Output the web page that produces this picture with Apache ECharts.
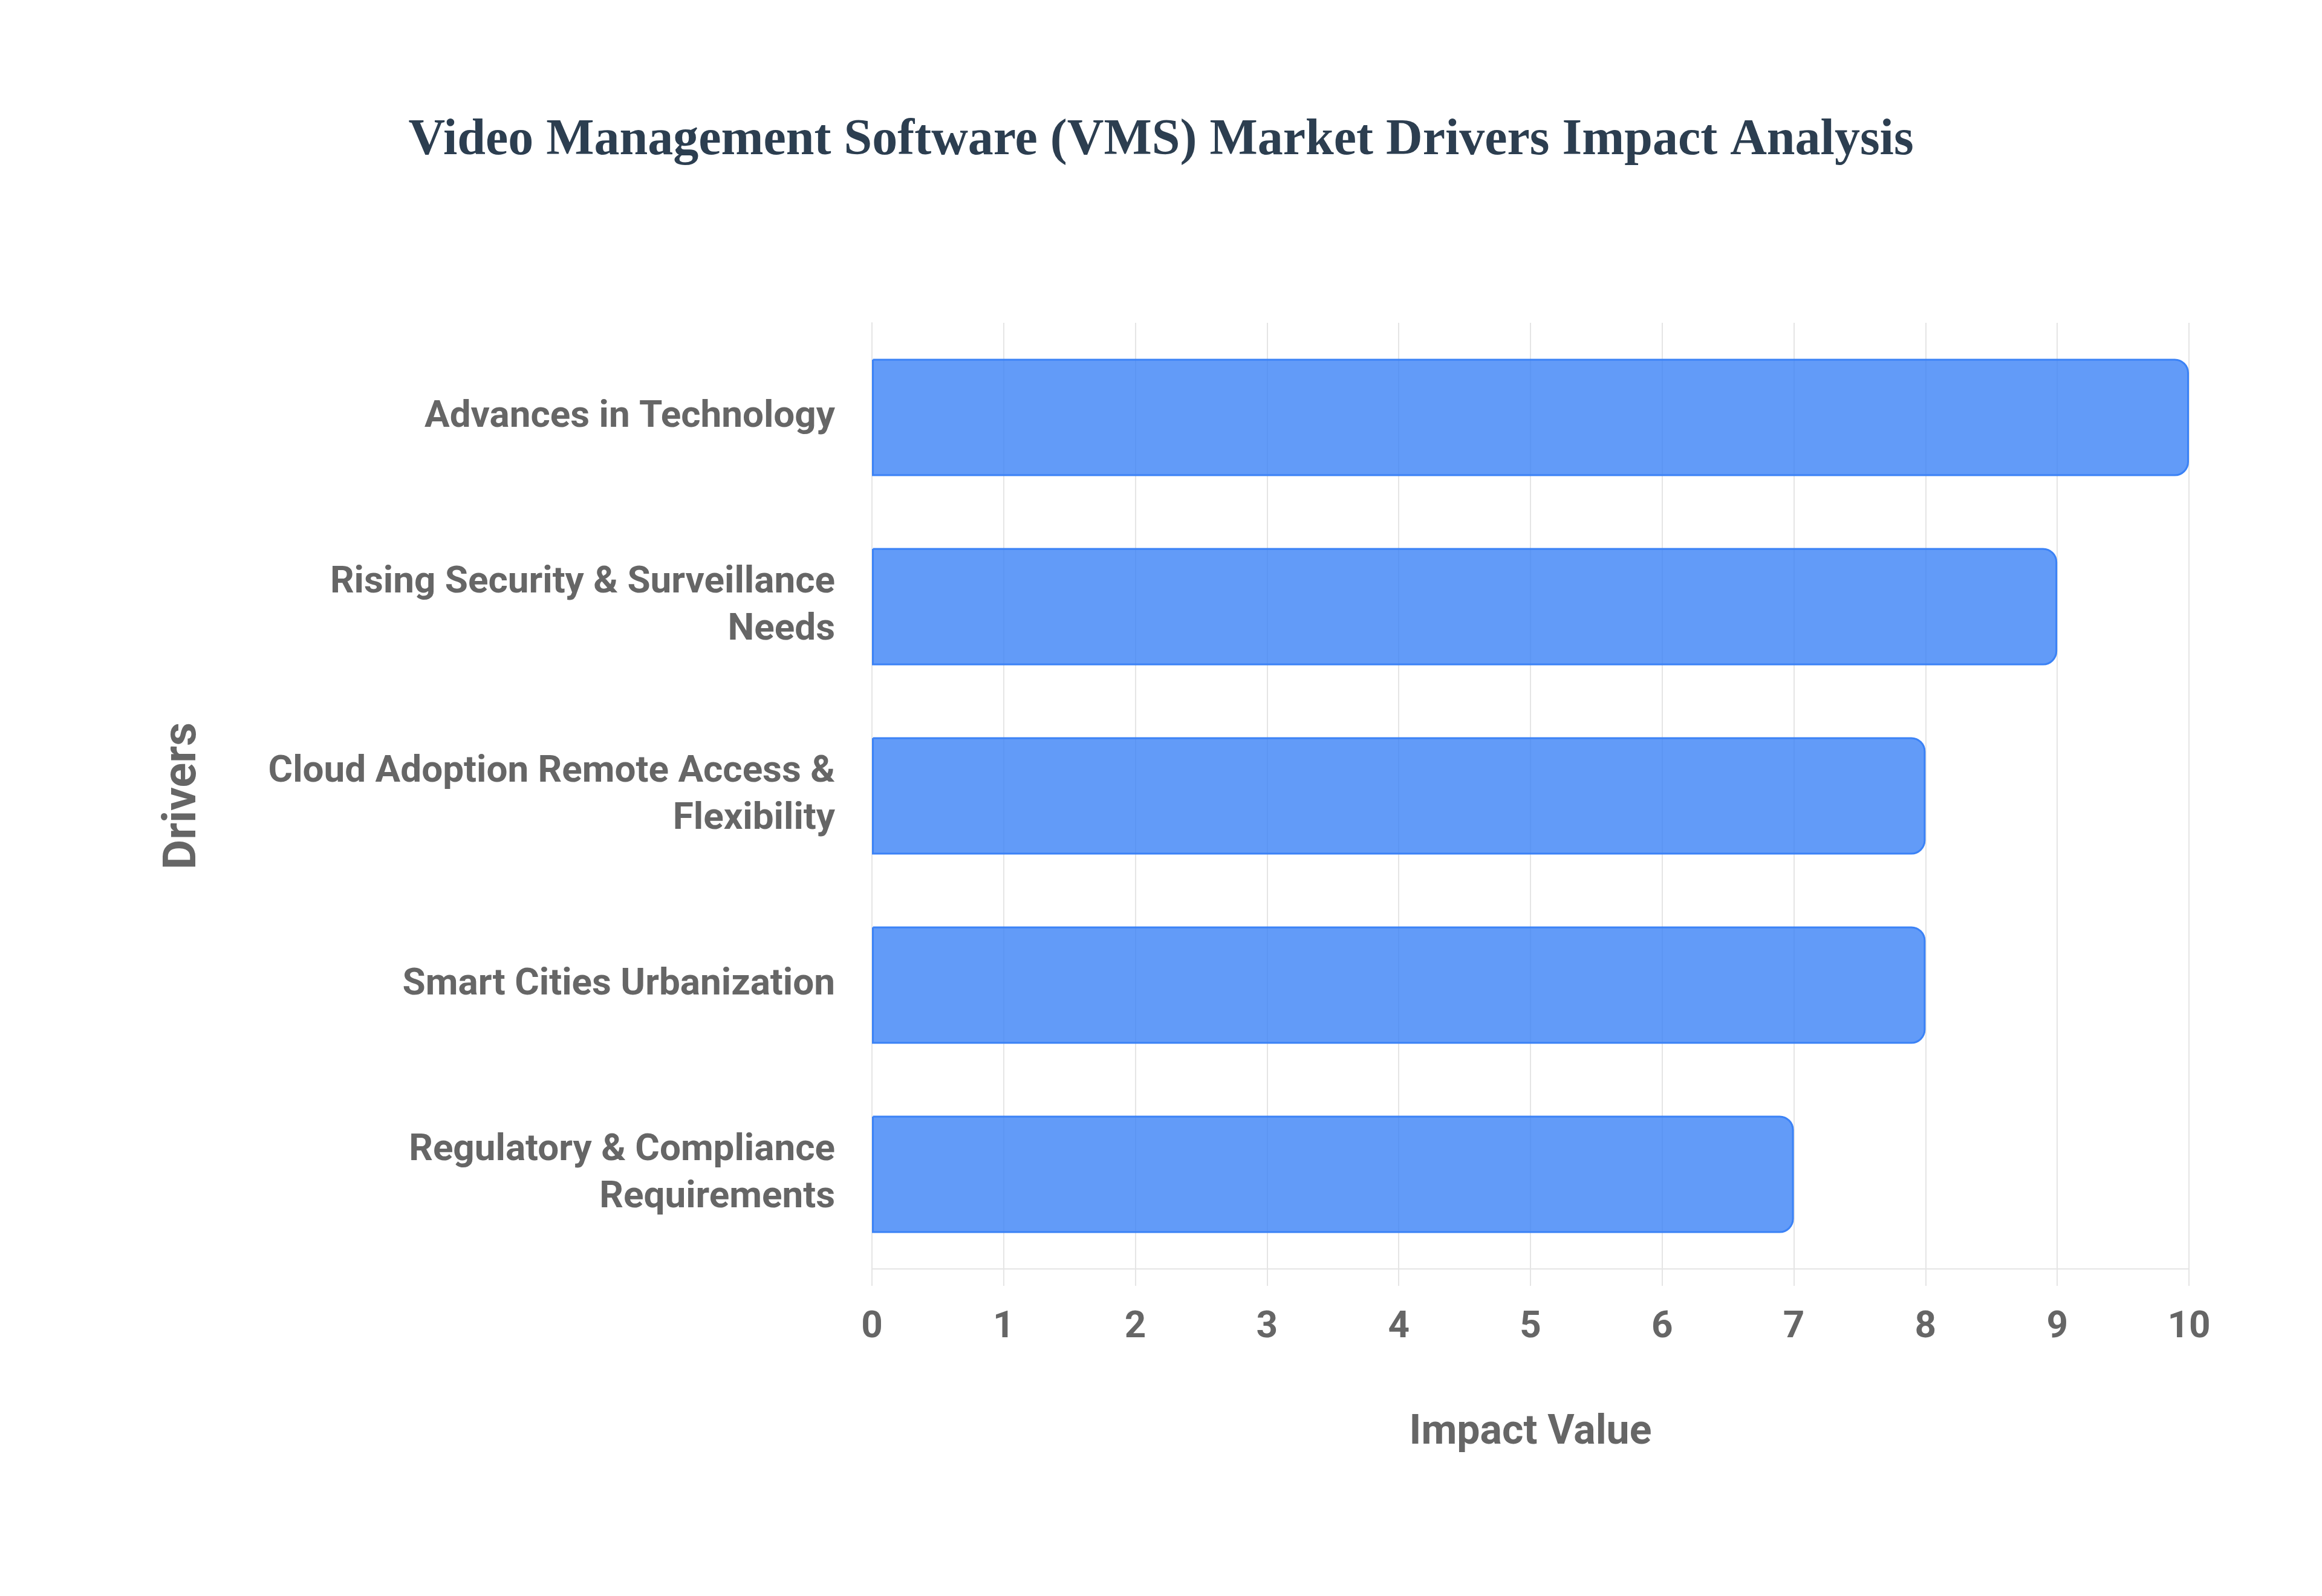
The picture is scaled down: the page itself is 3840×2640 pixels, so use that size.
<!DOCTYPE html>
<html>
<head>
<meta charset="utf-8">
<title>VMS Market Drivers Impact Analysis</title>
<script src="https://cdn.jsdelivr.net/npm/echarts@6/dist/echarts.min.js"></script>
<style>
  html, body { margin: 0; padding: 0; background: #fff; }
  #chart { width: 3840px; height: 2640px; }
</style>
</head>
<body>
<div id="chart"></div>
<script>
// data
const drivers = [
  'Advances in Technology',
  'Rising Security & Surveillance Needs',
  'Cloud Adoption Remote Access & Flexibility',
  'Smart Cities Urbanization',
  'Regulatory & Compliance Requirements'
];
const impactValues = [10, 9, 8, 8, 7];
const xTicks = [0, 1, 2, 3, 4, 5, 6, 7, 8, 9, 10];

// break long names into lines of at most 30 chars
function wrap(text) {
  let lines = [], cur = '';
  text.split(' ').forEach(function (w) {
    if (cur && (cur + ' ' + w).length > 30) {
      lines.push(cur);
      cur = w;
    } else {
      cur = cur ? cur + ' ' + w : w;
    }
  });
  if (cur) lines.push(cur);
  return lines.join('\n');
}

const gridColor = '#e5e5e5';
const labelColor = '#666666';

let myChart = echarts.init(document.getElementById('chart'));
let option = {
  backgroundColor: '#ffffff',
  title: {
    text: 'Video Management Software (VMS) Market Drivers Impact Analysis',
    left: 'center',
    top: 186,
    textStyle: {
      color: '#2c3e50',
      fontSize: 84,
      fontWeight: 'bold',
      fontFamily: '"Liberation Serif", "Times New Roman", serif'
    }
  },
  grid: {
    left: 1442,
    right: 220,
    top: 534,
    bottom: 541
  },
  xAxis: {
    type: 'value',
    min: xTicks[0],
    max: xTicks[xTicks.length - 1],
    interval: 1,
    name: 'Impact Value',
    nameLocation: 'middle',
    nameGap: 238,
    nameTextStyle: {
      color: labelColor,
      fontSize: 68,
      fontWeight: 'bold',
      fontFamily: 'Roboto, sans-serif'
    },
    axisLine: { show: true, lineStyle: { color: gridColor, width: 2 } },
    axisTick: { show: true, length: 28, lineStyle: { color: gridColor, width: 2 } },
    splitLine: { show: true, lineStyle: { color: gridColor, width: 2 } },
    axisLabel: {
      margin: 66,
      color: labelColor,
      fontSize: 62,
      fontWeight: 'bold',
      fontFamily: 'Roboto, sans-serif'
    }
  },
  yAxis: {
    type: 'category',
    inverse: true,
    data: drivers,
    name: 'Drivers',
    nameLocation: 'middle',
    nameRotate: 90,
    nameGap: 1100,
    nameTextStyle: {
      color: labelColor,
      fontSize: 76,
      fontWeight: 'bold',
      fontFamily: 'Roboto, sans-serif'
    },
    axisLine: { show: true, lineStyle: { color: gridColor, width: 2 } },
    axisTick: { show: false },
    splitLine: { show: false },
    axisLabel: {
      margin: 61,
      color: labelColor,
      fontSize: 62,
      lineHeight: 78,
      fontWeight: 'bold',
      fontFamily: 'Roboto, sans-serif',
      align: 'right',
      formatter: wrap
    }
  },
  series: [{
    name: 'Impact Value',
    type: 'bar',
    data: impactValues,
    barCategoryGap: '38%',
    itemStyle: {
      color: 'rgba(59, 130, 246, 0.8)',
      borderColor: '#3b82f6',
      borderWidth: 3,
      borderRadius: [0, 22, 22, 0]
    },
    silent: true
  }],
  animation: false
};

myChart.setOption(option);
</script>
</body>
</html>
